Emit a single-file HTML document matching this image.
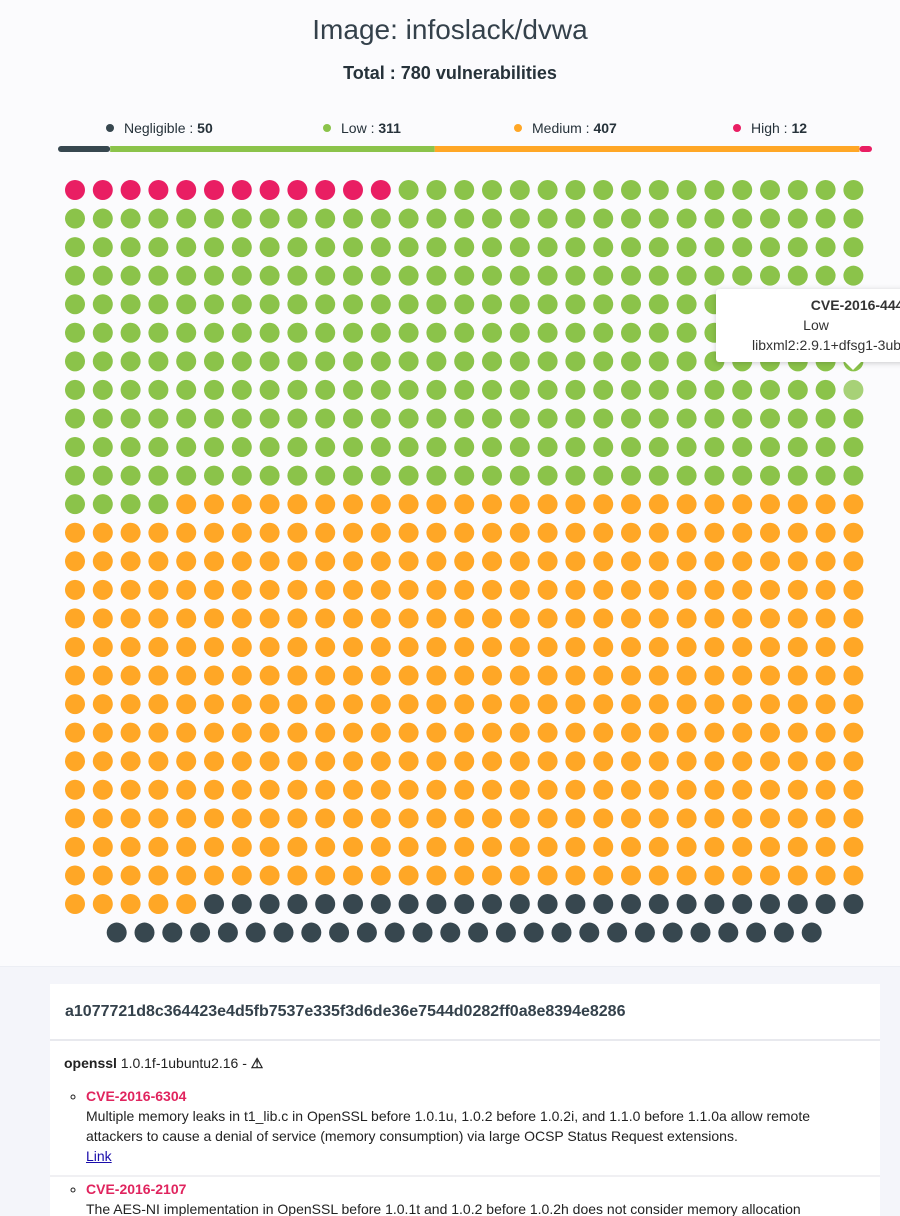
<!DOCTYPE html>
<html><head><meta charset="utf-8">
<style>
html,body{margin:0;padding:0;width:900px;height:1215px;overflow:hidden;background:#fbfbfd;font-family:"Liberation Sans",sans-serif;color:#2f3b44}
#top{position:absolute;left:0;top:0;width:900px;height:966px;background:#fbfbfd}
h1{position:absolute;top:14px;left:0;width:900px;text-align:center;font-weight:normal;font-size:28px;margin:0;color:#34414b}
h2{position:absolute;top:63px;left:0;width:900px;text-align:center;font-size:18px;margin:0;color:#26323a}
#bottom{position:absolute;left:0;top:966px;width:900px;height:249px;background:#f4f5fa;border-top:1px solid #eceef4;overflow:hidden}
.card{position:absolute;left:50px;top:17px;width:830px;height:240px;background:#fff}
.hash{height:55px;border-bottom:2px solid #e8e9ee;padding:0 15px;line-height:56px;font-size:16px;font-weight:bold;color:#34414b}
.body{padding:14px 14px;font-size:14px;color:#222}
ul{list-style:circle;margin:14px 0 0 0;padding-left:22px}
li{line-height:20px}
.cve{color:#e0245e;font-weight:bold}
a{color:#1a0dab}
.sep{border-top:2px solid #f0f0f3;margin:9px -14px 2px -36px}
#tip{position:absolute;left:716px;top:289px;width:200px;height:73px;background:#fff;box-shadow:0 1px 6px rgba(0,0,0,0.2);border-radius:3px;text-align:center;font-size:14px;line-height:20px;padding-top:6px;box-sizing:border-box;color:#333}
#tipArrow{position:absolute;left:845px;top:362px;width:0;height:0;border-left:8px solid transparent;border-right:8px solid transparent;border-top:8px solid #fff}
</style></head><body>
<div id="top">
<h1>Image: infoslack/dvwa</h1>
<h2>Total : 780 vulnerabilities</h2>
<svg id="chart" width="900" height="966" style="position:absolute;left:0;top:0"></svg>
<div id="tip"><b style="margin-left:90px;white-space:nowrap">CVE-2016-4449</b><br>Low<br><span style="white-space:nowrap;margin-left:36px">libxml2:2.9.1+dfsg1-3ubuntu4</span></div>
<div id="tipArrow"></div>
</div>
<div id="bottom">
<div class="card">
<div class="hash">a1077721d8c364423e4d5fb7537e335f3d6de36e7544d0282ff0a8e8394e8286</div>
<div class="body">
<div><b>openssl</b> 1.0.1f-1ubuntu2.16 - <b>&#9888;</b></div>
<ul>
<li><span class="cve">CVE-2016-6304</span><br>Multiple memory leaks in t1_lib.c in OpenSSL before 1.0.1u, 1.0.2 before 1.0.2i, and 1.1.0 before 1.1.0a allow remote attackers to cause a denial of service (memory consumption) via large OCSP Status Request extensions.<br><a href="#">Link</a><div class="sep"></div></li>
<li><span class="cve">CVE-2016-2107</span><br>The AES-NI implementation in OpenSSL before 1.0.1t and 1.0.2 before 1.0.2h does not consider memory allocation</li>
</ul></div></div></div>
<script>
const categories=["Negligible","Low","Medium","High"];
const counts=[50,311,407,12];
const colors=["#37474f","#8bc34a","#ffa726","#e91e63"];
const fillOrder=[3,1,2,0];
const NS="http://www.w3.org/2000/svg";
const svg=document.getElementById('chart');
function mk(t,a){const e=document.createElementNS(NS,t);for(const k in a)e.setAttribute(k,a[k]);svg.appendChild(e);return e;}
const total=counts.reduce((a,b)=>a+b,0);
const legX=[110,327,518,737];
categories.forEach((c,i)=>{
  const d=mk('circle',{cx:legX[i],cy:128,r:4,fill:colors[i]});
  
  
  const t=mk('text',{x:legX[i]+14,y:133,'font-size':14,fill:'#26323a','font-family':'Liberation Sans, sans-serif'});
  
  
  t.innerHTML=c+' : <tspan font-weight="bold">'+counts[i]+'</tspan>';
});
const bx0=58,bw=814;let acc=0;
categories.forEach((c,i)=>{
  const w=bw*counts[i]/total;
  const r=mk('rect',{x:bx0+bw*acc/total,y:146,width:w,height:6,fill:colors[i],rx:i==0||i==3?3:0});
  
  
  acc+=counts[i];
});
const cols=29,x0=75,dx=27.8,y0=190,dy=28.56,rad=10;
const seq=[];fillOrder.forEach(i=>{for(let k=0;k<counts[i];k++)seq.push(i);});
const fullRows=Math.floor(seq.length/cols),rem=seq.length-fullRows*cols;
seq.forEach((ci,n)=>{
  const row=Math.floor(n/cols);let col=n%cols;let cx=x0+col*dx;
  if(row===fullRows){cx=x0+(cols-rem)*dx/2+col*dx;}
  const hl=(row===7&&col===28);
  const c=mk('circle',{cx:cx,cy:y0+row*dy,r:rad,fill:colors[ci],opacity:hl?0.75:1});
  
  
});
</script>
</body></html>
